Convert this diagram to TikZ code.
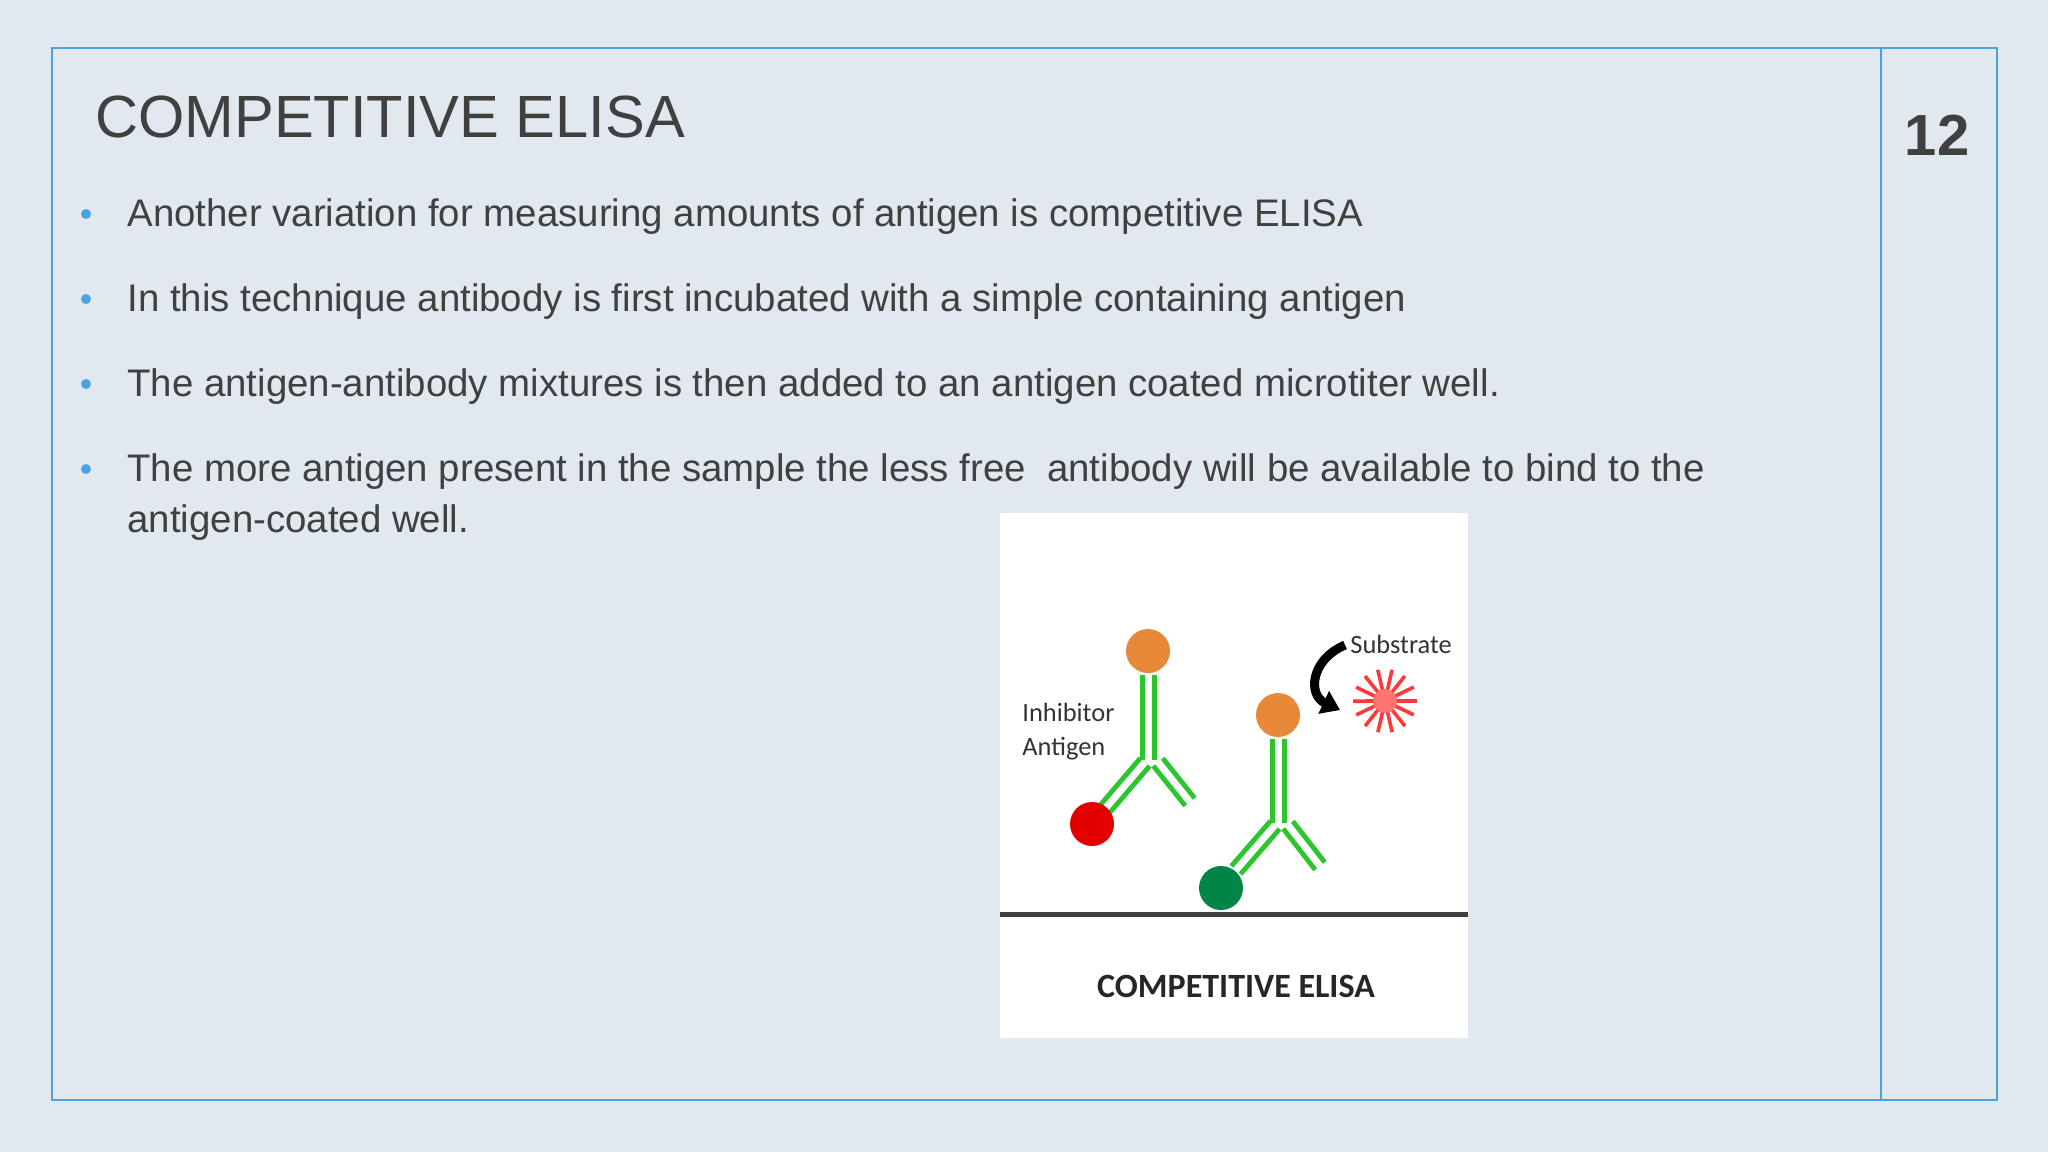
\documentclass[tikz,border=0pt]{standalone}
\usepackage{fontspec}
\setmainfont{Liberation Sans}
\newfontfamily\carlitofont{Carlito}
\usetikzlibrary{arrows.meta}
\definecolor{bg}{HTML}{E1E8EF}
\definecolor{frame}{HTML}{4AA3DF}
\definecolor{txt}{HTML}{404040}
\definecolor{ab}{HTML}{2DC52D}
\definecolor{orng}{HTML}{E8893A}
\tikzset{
  body/.style={anchor=base west,text=txt,font=\fontsize{19.2pt}{23pt}\selectfont,inner sep=0},
  bul/.style={circle,fill=frame,inner sep=0,minimum size=5pt},
  arm/.style={draw=ab,double=white,double distance=3.5pt,line width=2.5pt},
  ball/.style={circle,inner sep=0,minimum size=22pt},
  lab/.style={font=\carlitofont\fontsize{13.2pt}{15pt}\selectfont,text=black!80,anchor=base west,inner sep=0}
}
\begin{document}
\begin{tikzpicture}[x=0.5pt,y=-0.5pt]
\fill[bg] (0,0) rectangle (2048,1152);
\useasboundingbox (0,0) rectangle (2048,1152);
\draw[frame,line width=1.2pt] (52,48) rectangle (1997,1100);
\draw[frame,line width=1.2pt] (1881,48) -- (1881,1100);
\node[anchor=base west,text=txt,inner sep=0,font=\fontsize{29.8pt}{35pt}\selectfont] (title) at (95,137) {COMPETITIVE ELISA};
\node[anchor=base,text=txt,inner sep=0,font=\bfseries\fontsize{29pt}{34pt}\selectfont] (num) at (1937,155) {12};
\node[bul] (b1) at (86,214) {};
\node[body] (t1) at (127,226) {Another variation for measuring amounts of antigen is competitive ELISA};
\node[bul] (b2) at (86,299) {};
\node[body] (t2) at (127,311) {In this technique antibody is first incubated with a simple containing antigen};
\node[bul] (b3) at (86,384) {};
\node[body] (t3) at (127,396) {The antigen-antibody mixtures is then added to an antigen coated microtiter well.};
\node[bul] (b4) at (86,469) {};
\node[body] (t4) at (127,481) {The more antigen present in the sample the less free\ \ antibody will be available to bind to the};
\node[body] (t5) at (127,532) {antigen-coated well.};
% figure
\fill[white] (1000,513) rectangle (1468,1038);
\draw[black!75,line width=2.5pt] (1000,914) -- (1468,914);
% antibody 1
\node[ball,fill=orng] (o1) at (1148,651) {};
\draw[arm] (1148,675) -- (1148,760);
\draw[arm] (1145,762) -- (1104,810);
\draw[arm] (1158,762) -- (1190,802);
\node[ball,fill=red!90!black] (r1) at (1092,824) {};
% antibody 2
\node[ball,fill=orng] (o2) at (1278,715) {};
\draw[arm] (1278,739) -- (1278,823);
\draw[arm] (1275,825) -- (1236,870);
\draw[arm] (1288,825) -- (1320,866);
\node[ball,fill=teal!70!green!80!black] (g1) at (1221,888) {};
% substrate star
\coordinate (st) at (1385,701);
\foreach \a in {0,25.7,...,359} \draw[red!70!pink,line width=1.8pt] (st) -- ++(\a:32);
\fill[red!55] (st) circle (12);
\node[lab] (sub) at (1350,653) {Substrate};
\draw[black,line width=4.5pt,-{Triangle[length=9pt,width=12pt]}] (1345,645) .. controls (1310,660) and (1308,695) .. (1340,710);
\node[lab] (inh) at (1022,721) {Inhibitor};
\node[lab] (ant) at (1022,755) {Antigen};
\node[font=\carlitofont\bfseries\fontsize{17pt}{19pt}\selectfont,text=black!85] (cap) at (1236,986) {COMPETITIVE ELISA};
\end{tikzpicture}
\end{document}
